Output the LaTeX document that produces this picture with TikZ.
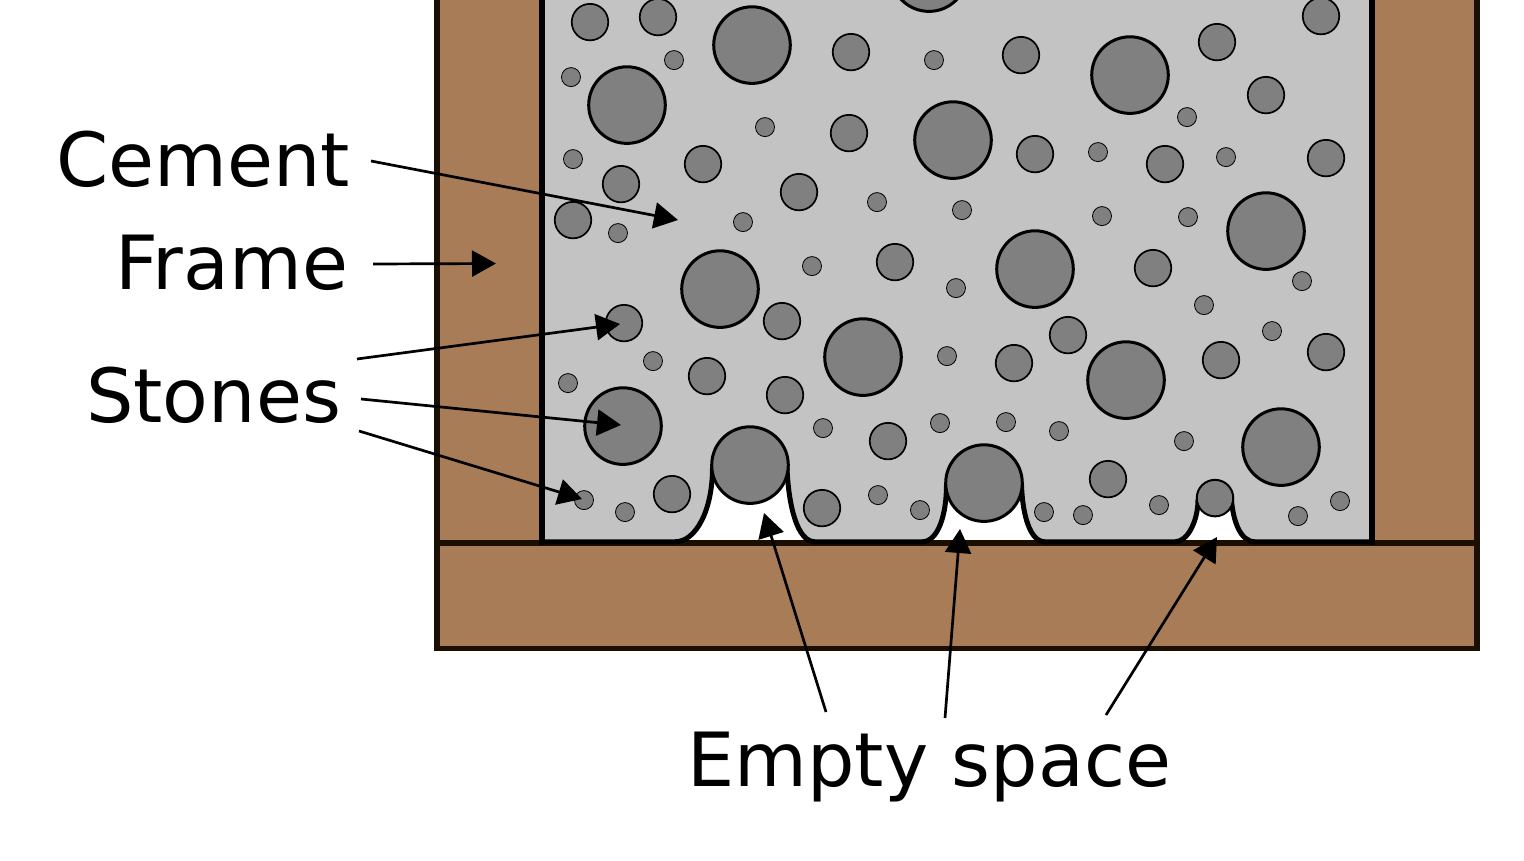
\documentclass[tikz,border=0pt]{standalone}
\usepackage{fontspec}
\setmainfont{DejaVu Sans}
\usetikzlibrary{arrows.meta}
\definecolor{wood}{HTML}{A97C58}
\definecolor{woodline}{HTML}{1A0F00}
\definecolor{cementc}{HTML}{C3C3C3}
\definecolor{stonec}{HTML}{808080}
\tikzset{
  frame part/.style={fill=wood,draw=woodline,line width=5.2pt,line join=miter},
  cement body/.style={fill=cementc,draw=black,line width=5pt,line join=round},
  cement side/.style={draw=black,line width=5.6pt},
  stone large/.style={circle,inner sep=0pt,minimum size=76.6pt,fill=stonec,draw=black,line width=3pt},
  stone medium/.style={circle,inner sep=0pt,minimum size=36.5pt,fill=stonec,draw=black,line width=1.7pt},
  stone small/.style={circle,inner sep=0pt,minimum size=19pt,fill=stonec,draw=black,line width=.8pt},
  stone gap/.style={circle,inner sep=0pt,minimum size=36.5pt,fill=stonec,draw=black,line width=2pt},
  label text/.style={anchor=base west,inner sep=0pt,font=\fontsize{74.75}{90}\selectfont},
  pointer/.style={draw=black,line width=2.7pt,-{Triangle[length=24pt,width=26pt]}},
}
\begin{document}
\begin{tikzpicture}[x=1pt,y=-1pt]
\useasboundingbox (0,0) rectangle (1524,861);
\fill[white] (0,0) rectangle (1524,861);
\begin{scope}
\clip (0,0) rectangle (1524,861);
\draw[frame part] (437,-20) rectangle (542,543);
\draw[frame part] (1372,-20) rectangle (1477,543);
\draw[frame part] (437,543) rectangle (1477,648.5);
\draw[cement body] (542,-20) -- (542,541.8) -- (675,541.8)
  .. controls (696,541.8) and (712.5,510) .. (712.5,468)
  -- (787,468)
  .. controls (788.5,505) and (797,541.8) .. (815,541.8)
  -- (922,541.8)
  .. controls (938,541.8) and (946.5,515) .. (946.5,485)
  -- (1021.5,485)
  .. controls (1022.5,515) and (1030,541.8) .. (1045,541.8)
  -- (1175,541.8)
  .. controls (1188,541.8) and (1198,520) .. (1198,500)
  -- (1231.5,500)
  .. controls (1233,520) and (1240,541.8) .. (1255,541.8)
  -- (1372,541.8) -- (1372,-20);
\draw[cement side] (542,-20) -- (542,544.5);
\draw[cement side] (1372,-20) -- (1372,544.5);
\begin{scope}[yshift=-0.1pt]
\foreach \x/\y [count=\i] in {752/45,627/105,1130/75,953/140,929/-27,1266/231,1035/269,720/289,863/357,1126/380,623/426,1281/447,750/465,984/483}
  \node[stone large] (L\i) at (\x,\y) {};
\foreach \x/\y [count=\i] in {590/22,658/17,851/52,1021/55,1217/42,1321/16,1266/95,849/133,703/164,621/184,573/220,799/192,1035/154,1165/164,1326/158,895/262,1153/268,782/321,624/323,707/376,785/395,1014/363,1068/335,1221/360,1326/352,888/441,1108/479,672/494,822/508}
  \node[stone medium] (M\i) at (\x,\y) {};
\node[stone gap] (G1) at (1215,498) {};
\foreach \x/\y [count=\i] in {571/77,674/60,934/60,765/127,1187/117,573/159,1098/152,1226/157,877/202,743/222,618/233,962/210,1102/216,1188/217,812/266,956/288,1302/281,1204/305,1272/331,653/361,947/356,568/383,823/428,940/423,1006/422,1059/431,1184/441,584/500,625/512,878/495,920/510,1044/512,1083/515,1159/505,1298/516,1340/501}
  \node[stone small] (S\i) at (\x,\y) {};
\end{scope}
\end{scope}
\node[label text] (cementlabel) at (56,187) {Cement};
\node[label text] (framelabel) at (115,289) {Frame};
\node[label text] (stoneslabel) at (86,422) {Stones};
\node[label text] (emptylabel) at (687,786) {Empty space};
\coordinate (c1) at (371,161); \coordinate (c2) at (678,220);
\coordinate (f1) at (373,264); \coordinate (f2) at (496,263.5);
\coordinate (s1a) at (357,359); \coordinate (s1b) at (620,324);
\coordinate (s2a) at (361,399); \coordinate (s2b) at (621,425);
\coordinate (s3a) at (359,431); \coordinate (s3b) at (582,499);
\coordinate (e1a) at (826,712); \coordinate (e1b) at (764,513);
\coordinate (e2a) at (945,718); \coordinate (e2b) at (960,529);
\coordinate (e3a) at (1106,715); \coordinate (e3b) at (1217,537);
\draw[pointer] (c1) -- (c2);
\draw[pointer] (f1) -- (f2);
\draw[pointer] (s1a) -- (s1b);
\draw[pointer] (s2a) -- (s2b);
\draw[pointer] (s3a) -- (s3b);
\draw[pointer] (e1a) -- (e1b);
\draw[pointer] (e2a) -- (e2b);
\draw[pointer] (e3a) -- (e3b);
\end{tikzpicture}
\end{document}
